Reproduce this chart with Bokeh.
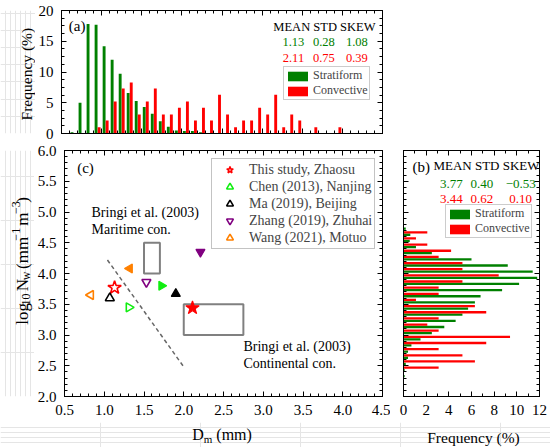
import numpy as np
from bokeh.plotting import figure
from bokeh.models import (Range1d, LinearAxis, FixedTicker, PrintfTickFormatter,
                          Label, Legend, LegendItem)
from bokeh.layouts import column, row
from bokeh.embed import file_html
from bokeh.resources import INLINE

FONT = "Liberation Serif"
GREEN = "#008000"
RED = "#ff0000"

# ---------------- data ----------------
# (a) Dm histogram (bin centres, mm) and frequencies (%)
dm_bins = [0.65, 0.75, 0.85, 0.95, 1.05, 1.15, 1.25, 1.35, 1.45, 1.55,
           1.65, 1.75, 1.85, 1.95, 2.05, 2.15, 2.25, 2.35, 2.45, 2.55,
           2.65, 2.75, 2.85, 2.95, 3.05, 3.15, 3.25, 3.35, 3.45, 3.55,
           3.65, 3.75, 3.85, 3.95]
dm_freq_strat = [0.2, 5.0, 17.8, 17.7, 14.2, 12.0, 9.7, 6.6, 5.3, 4.3,
                 3.2, 2.0, 1.1, 0.5, 0.4, 0.4, 0.2, 0.1, 0.0, 0.0,
                 0.0, 0.0, 0.0, 0.0, 0.0, 0.0, 0.0, 0.0, 0.0, 0.0,
                 0.0, 0.0, 0.0, 0.0]
dm_freq_conv = [0.0, 0.0, 0.0, 1.0, 2.1, 5.2, 7.3, 8.3, 3.1, 5.2,
                7.3, 3.1, 3.1, 4.2, 5.2, 2.1, 4.2, 2.1, 6.3, 3.1,
                1.0, 2.1, 2.1, 4.2, 3.1, 6.3, 1.0, 3.1, 2.1, 0.0,
                1.0, 0.0, 0.0, 1.0]

# (b) log10 Nw histogram (bin centres) and frequencies (%)
nw_bins = [2.35, 2.45, 2.55, 2.65, 2.75, 2.85, 2.95, 3.05, 3.15, 3.25,
           3.35, 3.45, 3.55, 3.65, 3.75, 3.85, 3.95, 4.05, 4.15, 4.25,
           4.35, 4.45, 4.55, 4.65, 4.75]
nw_freq_strat = [0.1, 0.1, 0.2, 0.4, 0.4, 0.7, 1.5, 2.5, 3.6, 4.6,
                 5.2, 5.7, 6.3, 6.8, 8.7, 10.2, 11.8, 11.4, 9.2, 6.0,
                 2.5, 1.1, 0.55, 0.6, 0.2]
nw_freq_conv = [0.0, 3.1, 6.3, 5.2, 3.1, 7.3, 9.4, 3.1, 2.1, 3.1,
                7.3, 6.3, 1.1, 3.1, 3.1, 5.2, 8.4, 5.2, 5.2, 3.1,
                4.2, 2.1, 1.1, 2.1, 0.0]

# (c) mean Dm / log10 Nw of studies (stratiform = open, convective = filled)
study_names = ["This study, Zhaosu", "Chen (2013), Nanjing", "Ma (2019), Beijing",
               "Zhang (2019), Zhuhai", "Wang (2021), Motuo"]
strat_dm = [1.13, 1.31, 1.07, 1.53, 0.83]
strat_nw = [3.77, 3.45, 3.60, 3.86, 3.65]
conv_dm = [2.11, 1.72, 1.90, 2.21, 1.32]
conv_nw = [3.44, 3.80, 3.67, 4.35, 4.08]
study_colors = ["#ff0000", "#11ee11", "#000000", "#800080", "#ff8000"]
study_markers = ["star", "triangle", "triangle", "inverted_triangle", "triangle"]
study_angles = [0.0, -np.pi / 2, 0.0, 0.0, np.pi / 2]
study_sizes = [14, 9, 9, 9, 9]

maritime_box = dict(left=[1.5], right=[1.7], bottom=[4.0], top=[4.5])
continental_box = dict(left=[2.0], right=[2.75], bottom=[3.0], top=[3.5])
sep_line_dm = [1.04, 1.99]
sep_line_nw = [4.22, 2.50]

stats_head = "MEAN STD SKEW"
stats_a = [["1.13", "0.28", "1.08"], ["2.11", "0.75", "0.39"]]
stats_b = [["3.77", "0.40", "\u22120.53"], ["3.44", "0.62", "0.10"]]

# ticks
dm_ticks = [0.5, 1.0, 1.5, 2.0, 2.5, 3.0, 3.5, 4.0, 4.5]
nw_ticks = [2.0, 2.5, 3.0, 3.5, 4.0, 4.5, 5.0, 5.5, 6.0]
fa_ticks = [0, 5, 10, 15, 20]
fb_ticks = [0, 2, 4, 6, 8, 10, 12]
dm_minor = list(np.round(np.arange(0.5, 4.501, 0.1), 2))
nw_minor = list(np.round(np.arange(2.0, 6.001, 0.1), 2))
fa_minor = list(np.arange(0, 20.01, 1.25))
fb_minor = list(np.arange(0, 12.01, 1.0))

# ---------------- helpers ----------------
W = {'l': 0.278, 'o': 0.5, 'g': 0.5, '1': 0.5, '0': 0.5, '3': 0.5, ' ': 0.25,
     'N': 0.722, 'w': 0.722, '(': 0.333, ')': 0.333, 'm': 0.778,
     '\u2212': 0.564, 'D': 0.722}


def text_width(s, size):
    return sum(W.get(c, 0.5) for c in s) * size


def rich_label(p, parts, x0, y0, angle=0.0):
    """Inline text pieces with sub/superscripts, in a pixel-unit label figure."""
    pos = 0.0
    for txt, size, shift in parts:
        body = txt.lstrip(" ")
        pos += text_width(txt[:len(txt) - len(body)], size)   # leading spaces
        if angle == 0.0:
            x, y = x0 + pos, y0 + shift
        else:
            x, y = x0 - shift, y0 + pos
        p.add_layout(Label(x=x, y=y, text=body, angle=angle, text_font=FONT,
                           text_font_size=f"{size}px", text_align="left",
                           text_baseline="alphabetic", text_color="black"))
        pos += text_width(body, size)


def style_axis(ax, ticks, minor, fmt, show, size="15px", standoff=8):
    ax.ticker = FixedTicker(ticks=ticks, minor_ticks=minor)
    ax.formatter = PrintfTickFormatter(format=fmt)
    ax.axis_line_color = "black"
    ax.axis_line_width = 1
    ax.major_tick_in = 5
    ax.major_tick_out = 0
    ax.minor_tick_in = 3
    ax.minor_tick_out = 0
    ax.major_tick_line_color = "black"
    ax.minor_tick_line_color = "black"
    ax.major_label_text_font = FONT
    ax.major_label_text_color = "black"
    if show:
        ax.major_label_text_font_size = size
        ax.major_label_standoff = standoff
    else:
        ax.major_label_overrides = {t: "" for t in ticks}
        ax.major_label_text_font_size = "1px"
        ax.major_label_standoff = 0


def base_fig(w, h, xr, yr, bl, br, bt, bb):
    p = figure(width=w, height=h, x_range=xr, y_range=yr, output_backend="svg",
               toolbar_location=None, title=None,
               min_border_left=bl, min_border_right=br,
               min_border_top=bt, min_border_bottom=bb)
    p.grid.visible = False
    p.outline_line_color = "black"
    p.outline_line_width = 1
    p.background_fill_color = "white"
    p.border_fill_color = "white"
    return p


def label_fig(w, h):
    """Axis-free strip (1 data unit = 1 px) that carries axis titles."""
    p = figure(width=w, height=h, x_range=Range1d(0, w), y_range=Range1d(0, h),
               output_backend="svg", toolbar_location=None, title=None,
               x_axis_location=None, y_axis_location=None, min_border=0)
    p.outline_line_color = None
    p.background_fill_color = "white"
    p.border_fill_color = "white"
    return p


def add_frame_axes(p, xt, xm, xf, yt, ym, yf):
    top = LinearAxis()
    right = LinearAxis()
    p.add_layout(top, "above")
    p.add_layout(right, "right")
    style_axis(top, xt, xm, xf, False)
    style_axis(right, yt, ym, yf, False)


def small_legend(items, loc, size="12px"):
    return Legend(items=items, location=loc, label_text_font=FONT,
                  label_text_font_size=size, glyph_width=25, glyph_height=12,
                  label_height=12, spacing=0, padding=1, margin=0, label_standoff=3,
                  border_line_color="#999999", border_line_width=1,
                  background_fill_color="white", background_fill_alpha=1.0)


def lab(p, text, x, y, size, color="black", align="left"):
    p.add_layout(Label(x=x, y=y, text=text, text_font=FONT, text_font_size=size,
                       text_color=color, text_align=align, text_baseline="middle"))


# ---------------- (a) Dm histogram ----------------
pa = base_fig(515, 143, Range1d(0.5, 4.5), Range1d(0, 20), 26, 168, 10, 10)
style_axis(pa.xaxis[0], dm_ticks, dm_minor, "%.1f", False)
style_axis(pa.yaxis[0], fa_ticks, fa_minor, "%d", True, standoff=8)
add_frame_axes(pa, dm_ticks, dm_minor, "%.1f", fa_ticks, fa_minor, "%d")

xa_s = [b - 0.019 for b in dm_bins]
xa_c = [b + 0.019 for b in dm_bins]
ra_s = pa.vbar(x=xa_s, top=dm_freq_strat, width=0.036, fill_color=GREEN, line_color=None)
ra_c = pa.vbar(x=xa_c, top=dm_freq_conv, width=0.036, fill_color=RED, line_color=None)
pa.add_layout(small_legend([LegendItem(label="Stratiform", renderers=[ra_s]),
                            LegendItem(label="Convective", renderers=[ra_c])], (222, 33)))
lab(pa, "(a)", 0.59, 17.4, "15px")
lab(pa, stats_head, 3.14, 17.35, "12.5px")
for row_vals, yv, col in ((stats_a[0], 14.8, GREEN), (stats_a[1], 12.3, RED)):
    for xv, t in zip([3.39, 3.77, 4.18], row_vals):
        lab(pa, t, xv, yv, "12.5px", color=col, align="center")

ylab_a = label_fig(35, 143)
ylab_a.add_layout(Label(x=26, y=69, text="Frequency (%)", angle=np.pi / 2, text_font=FONT,
                        text_font_size="15.5px", text_align="center",
                        text_baseline="middle", text_color="black"))

# ---------------- (c) scatter ----------------
pc = base_fig(356, 279, Range1d(0.5, 4.5), Range1d(2.0, 6.0), 27, 8, 7, 26)
style_axis(pc.xaxis[0], dm_ticks, dm_minor, "%.1f", True)
style_axis(pc.yaxis[0], nw_ticks, nw_minor, "%.1f", True)
add_frame_axes(pc, dm_ticks, dm_minor, "%.1f", nw_ticks, nw_minor, "%.1f")

pc.quad(**maritime_box, fill_color=None, line_color="#808080", line_width=2)
pc.quad(**continental_box, fill_color=None, line_color="#808080", line_width=2)
pc.line(sep_line_dm, sep_line_nw, line_color="#666666", line_width=1.5, line_dash="4 3")

legend_items = []
for i, name in enumerate(study_names):
    pc.scatter(x=[conv_dm[i]], y=[conv_nw[i]], marker=study_markers[i],
               angle=study_angles[i], size=study_sizes[i], fill_color=study_colors[i],
               line_color=study_colors[i], line_width=1.2)
    r_open = pc.scatter(x=[strat_dm[i]], y=[strat_nw[i]], marker=study_markers[i],
                        angle=study_angles[i], size=study_sizes[i], fill_color=None,
                        line_color=study_colors[i], line_width=1.6)
    legend_items.append(LegendItem(label=name, renderers=[r_open]))

pc.add_layout(Legend(items=legend_items, location=(147, 147), label_text_font=FONT,
                     label_text_font_size="14px", glyph_width=31, glyph_height=17,
                     label_height=14, label_width=123, spacing=0, padding=2, margin=0,
                     label_standoff=4, border_line_color="#888888", border_line_width=1.2,
                     background_fill_color="white", background_fill_alpha=1.0))

lab(pc, "(c)", 0.66, 5.71, "15px")
lab(pc, "Bringi et al. (2003)", 0.84, 5.0, "14px")
lab(pc, "Maritime con.", 0.84, 4.72, "14px")
lab(pc, "Bringi et al. (2003)", 2.75, 2.81, "14px")
lab(pc, "Continental con.", 2.75, 2.53, "14px")

ylab_c = label_fig(34, 279)
rich_label(ylab_c, [("log", 17, 0), ("10", 12, -4), (" N", 17, 0), ("w", 12, -4),
                    (" (mm", 17, 0), ("\u22121", 12, 6), (" m", 17, 0), ("\u22123", 12, 6),
                    (")", 17, 0)], 21.7, 81.5, angle=np.pi / 2)

# ---------------- (b) Nw histogram ----------------
pb = base_fig(160, 279, Range1d(0, 12), Range1d(2.0, 6.0), 13, 11, 7, 26)
style_axis(pb.xaxis[0], fb_ticks, fb_minor, "%d", True)
style_axis(pb.yaxis[0], nw_ticks, nw_minor, "%.1f", False)
add_frame_axes(pb, fb_ticks, fb_minor, "%d", nw_ticks, nw_minor, "%.1f")

yb_s = [b - 0.02 for b in nw_bins]
yb_c = [b + 0.02 for b in nw_bins]
rb_s = pb.hbar(y=yb_s, right=nw_freq_strat, left=0, height=0.038, fill_color=GREEN, line_color=None)
rb_c = pb.hbar(y=yb_c, right=nw_freq_conv, left=0, height=0.038, fill_color=RED, line_color=None)
pb.add_layout(small_legend([LegendItem(label="Stratiform", renderers=[rb_s]),
                            LegendItem(label="Convective", renderers=[rb_c])], (42, 158)))
lab(pb, "(b)", 0.8, 5.73, "15px")
lab(pb, stats_head, 2.64, 5.755, "13px")
for row_vals, yv, col in ((stats_b[0], 5.46, GREEN), (stats_b[1], 5.215, RED)):
    for xv, t in zip([4.23, 6.91, 10.34], row_vals):
        lab(pb, t, xv, yv, "13px", color=col, align="center")

# ---------------- bottom strip with x-axis titles ----------------
xlab = label_fig(550, 25)
rich_label(xlab, [("D", 16, 0), ("m", 11, -4), (" (mm)", 16, 0)], 191.7, 13.0)
xlab.add_layout(Label(x=473, y=10.5, text="Frequency (%)", text_font=FONT,
                      text_font_size="15.5px", text_align="center",
                      text_baseline="alphabetic", text_color="black"))

layout = column(row(ylab_a, pa), row(ylab_c, pc, pb), xlab)
with open("out.html", "w", encoding="utf-8") as f:
    f.write(file_html(layout, INLINE))
